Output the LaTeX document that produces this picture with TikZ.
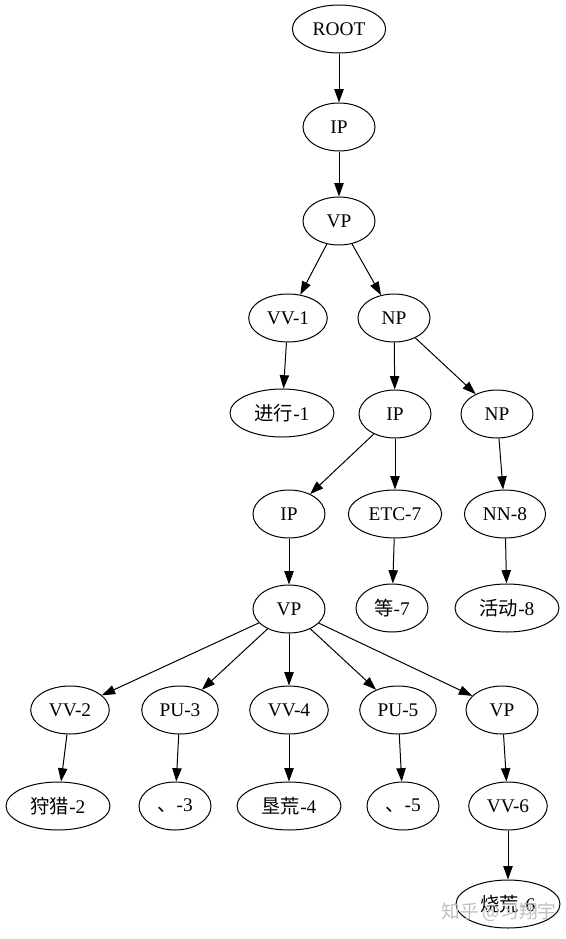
\documentclass[tikz,border=0pt]{standalone}
\usepackage{fontspec}
\setmainfont{Liberation Serif}
\newfontfamily\cjk{Noto Sans CJK SC}
\usetikzlibrary{shapes.geometric,arrows.meta}

\begin{document}
\begin{tikzpicture}[x=0.75pt,y=-0.75pt,line width=0.75pt]
\tikzset{tn/.style={draw,ellipse,minimum width=54pt,minimum height=36pt,inner xsep=5pt,inner ysep=2pt,font=\fontsize{14.5}{16}\selectfont},
  wn/.style={tn,minimum width=78pt},
  ed/.style={-{Triangle[length=10pt,width=7pt]}}}
\useasboundingbox (0,0) rectangle (566,939);
\node[tn] (root) at (339,29) {ROOT};
\node[tn] (ip1) at (339,127) {IP};
\node[tn] (vp1) at (339,221) {VP};
\node[tn] (vv1) at (288,318) {VV-1};
\node[tn] (np1) at (394,318) {NP};
\node[wn] (jinxing) at (282,413) {{\cjk 进行}-1};
\node[tn] (ip2) at (395,414) {IP};
\node[tn] (np2) at (497,414) {NP};
\node[tn] (ip3) at (289,514) {IP};
\node[tn] (etc7) at (395,514) {ETC-7};
\node[tn] (nn8) at (505,514) {NN-8};
\node[tn] (vp2) at (289,609) {VP};
\node[tn] (deng7) at (392,608) {{\cjk 等}-7};
\node[wn] (huodong8) at (507,608) {{\cjk 活动}-8};
\node[tn] (vv2) at (70,710) {VV-2};
\node[tn] (pu3) at (180,710) {PU-3};
\node[tn] (vv4) at (289,710) {VV-4};
\node[tn] (pu5) at (398,710) {PU-5};
\node[tn] (vp3) at (502,710) {VP};
\node[wn] (shoulie2) at (58,806) {{\cjk 狩猎}-2};
\node[tn] (dun3) at (175,806) {{\cjk 、}-3};
\node[wn] (kenhuang4) at (289,806) {{\cjk 垦荒}-4};
\node[tn] (dun5) at (403,806) {{\cjk 、}-5};
\node[tn] (vv6) at (508,806) {VV-6};
\node[wn] (shaohuang6) at (508,904) {{\cjk 烧荒}-6};
\draw[ed] (root) -- (ip1);
\draw[ed] (ip1) -- (vp1);
\draw[ed] (vp1) -- (vv1);
\draw[ed] (vp1) -- (np1);
\draw[ed] (vv1) -- (jinxing);
\draw[ed] (np1) -- (ip2);
\draw[ed] (np1) -- (np2);
\draw[ed] (ip2) -- (ip3);
\draw[ed] (ip2) -- (etc7);
\draw[ed] (np2) -- (nn8);
\draw[ed] (ip3) -- (vp2);
\draw[ed] (etc7) -- (deng7);
\draw[ed] (nn8) -- (huodong8);
\draw[ed] (vp2) -- (vv2);
\draw[ed] (vp2) -- (pu3);
\draw[ed] (vp2) -- (vv4);
\draw[ed] (vp2) -- (pu5);
\draw[ed] (vp2) -- (vp3);
\draw[ed] (vv2) -- (shoulie2);
\draw[ed] (pu3) -- (dun3);
\draw[ed] (vv4) -- (kenhuang4);
\draw[ed] (pu5) -- (dun5);
\draw[ed] (vp3) -- (vv6);
\draw[ed] (vv6) -- (shaohuang6);
\node[text=black!25,font=\cjk\fontsize{14}{16}\selectfont] (mark) at (499,912) {知乎 @习翔宇};
\end{tikzpicture}
\end{document}
